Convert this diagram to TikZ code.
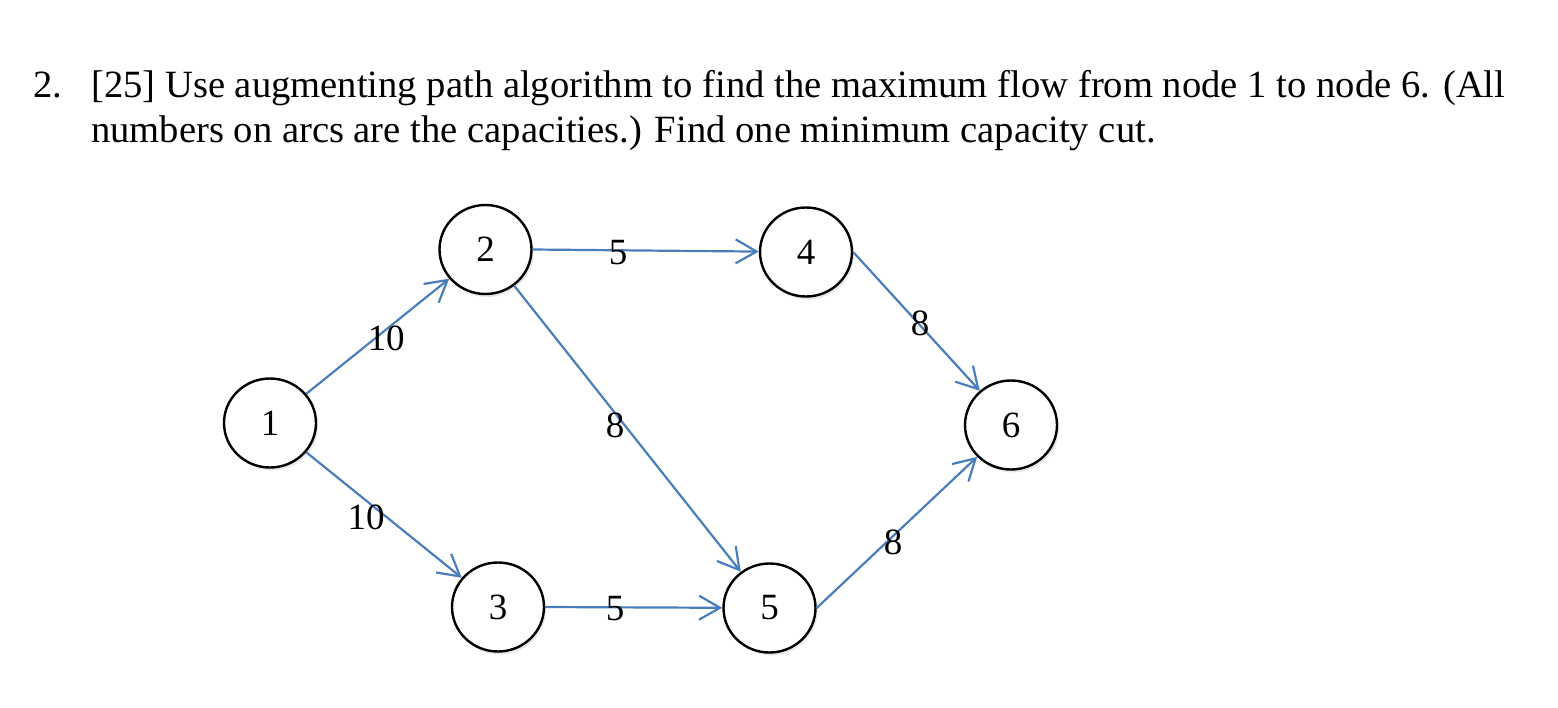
\documentclass[tikz,border=0pt]{standalone}
\usepackage{fontspec}
\setmainfont{Liberation Serif}
\usetikzlibrary{arrows.meta,shadows,shapes.geometric}
\definecolor{arcblue}{RGB}{74,126,187}
\begin{document}
\begin{tikzpicture}[x=1pt,y=-1pt,
  vtx/.style={ellipse,draw=black,line width=2.4pt,fill=white,minimum width=92pt,minimum height=89pt,inner sep=0pt,
    font=\fontsize{37}{40}\selectfont,
    drop shadow={opacity=0.18,shadow xshift=2pt,shadow yshift=-3pt}},
  flowarc/.style={draw=arcblue,line width=2.2pt,-{Straight Barb[length=21pt,width=24pt,line width=2.2pt]}},
  lbl/.style={inner sep=0pt,font=\fontsize{37}{40}\selectfont},
  ttl/.style={anchor=base west,inner sep=0pt,font=\fontsize{38.6}{45}\selectfont}]
\useasboundingbox (0,0) rectangle (1558,707);
\node[ttl] (num) at (33,97) {2.};
\node[ttl] (l1) at (91,97) {\makebox[1414pt][s]{[25] Use augmenting path algorithm to find the maximum flow from node 1 to node 6. (All}};
\node[ttl] (l2) at (91,142) {numbers on arcs are the capacities.) Find one minimum capacity cut.};

\node[vtx] (n1) at (270,423) {1};
\node[vtx] (n2) at (485.5,249.5) {2};
\node[vtx] (n3) at (498,607) {3};
\node[vtx] (n4) at (806,252) {4};
\node[vtx] (n5) at (769.5,608) {5};
\node[vtx] (n6) at (1011,425) {6};

\draw[flowarc] (n1) -- (n2);
\draw[flowarc] (n1) -- (n3);
\draw[flowarc] (n2.east) -- (n4);
\draw[flowarc] (n2) -- (n5);
\draw[flowarc] (n3.east) -- (n5);
\draw[flowarc] (n4.east) -- (n6);
\draw[flowarc] (n5.east) -- (n6);

\node[lbl] (c12) at (386,338) {10};
\node[lbl] (c13) at (366,517) {10};
\node[lbl] (c24) at (618,253) {5};
\node[lbl] (c25) at (615,425) {8};
\node[lbl] (c35) at (615,609) {5};
\node[lbl] (c46) at (920,323) {8};
\node[lbl] (c56) at (893,542) {8};
\end{tikzpicture}
\end{document}
